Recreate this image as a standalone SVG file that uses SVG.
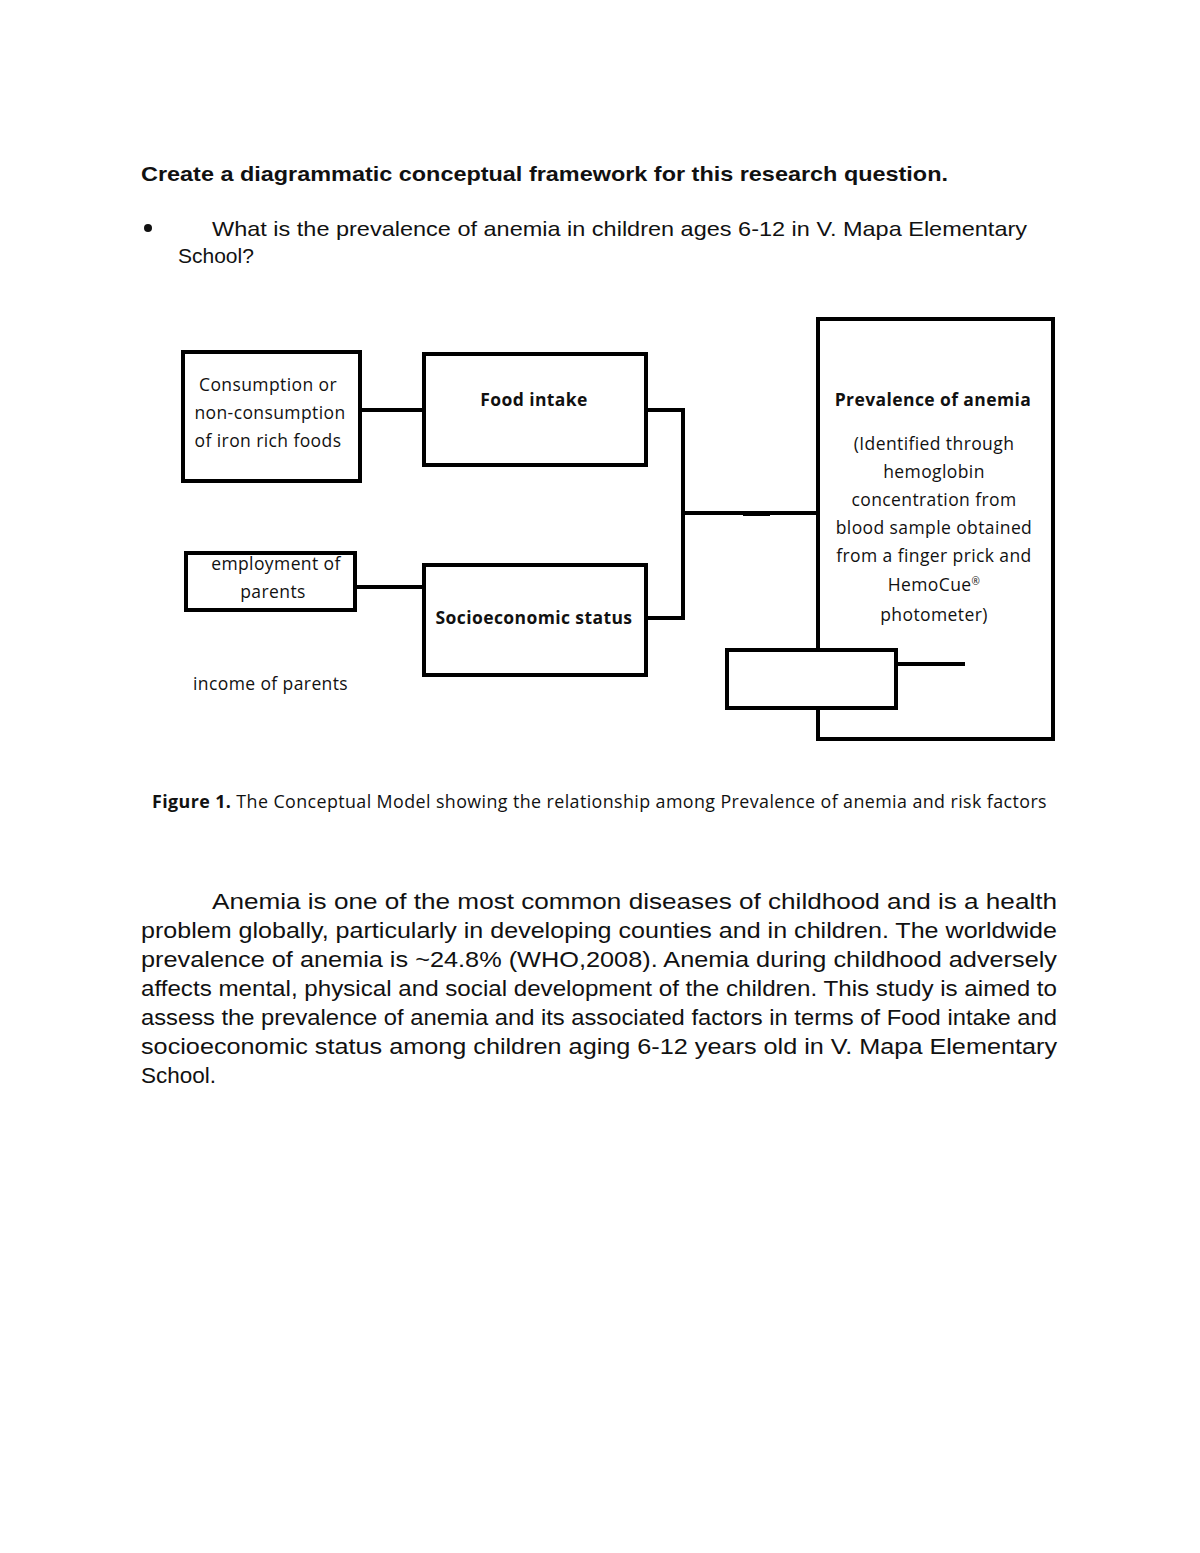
<svg xmlns="http://www.w3.org/2000/svg" width="1200" height="1553" viewBox="0 0 1200 1553">
<style>
.a{font-family:"Liberation Sans",Arial,sans-serif;font-size:21px;fill:#111}
.p{font-family:"Liberation Sans",Arial,sans-serif;font-size:22.5px;fill:#111}
.c{font-family:"Open Sans","Noto Sans","Liberation Sans",sans-serif;font-size:17.5px;letter-spacing:0.4px;fill:#111}
.b{font-weight:bold}
.box{fill:#fff;stroke:#000;stroke-width:4}
.ln{stroke:#000;stroke-width:4;fill:none}
</style>
<rect width="1200" height="1553" fill="#fff"/>
<text class="a b" x="141" y="181" textLength="807" lengthAdjust="spacingAndGlyphs">Create a diagrammatic conceptual framework for this research question.</text>
<circle cx="148" cy="228" r="4" fill="#111"/>
<text class="a" x="212" y="236" textLength="815" lengthAdjust="spacingAndGlyphs">What is the prevalence of anemia in children ages 6-12 in V. Mapa Elementary</text>
<text class="a" x="178" y="263">School?</text>

<g id="consumption">
<rect class="box" x="183" y="352" width="177" height="129"/>
<text class="c" text-anchor="middle" x="268" y="391">Consumption or</text>
<text class="c" text-anchor="middle" x="270" y="419">non-consumption</text>
<text class="c" text-anchor="middle" x="268" y="447">of iron rich foods</text>
</g>
<g id="food-intake">
<rect class="box" x="424" y="354" width="222" height="111"/>
<text class="c b" text-anchor="middle" x="534" y="406">Food intake</text>
</g>
<g id="employment">
<rect class="box" x="186" y="553" width="169" height="57" stroke-width="3.5"/>
<text class="c" text-anchor="middle" x="276" y="570">employment of</text>
<text class="c" text-anchor="middle" x="273" y="598">parents</text>
</g>
<g id="ses">
<rect class="box" x="424" y="565" width="222" height="110"/>
<text class="c b" text-anchor="middle" x="534" y="624">Socioeconomic status</text>
</g>
<g id="income">
<text class="c" x="193" y="690">income of parents</text>
</g>
<g id="prevalence">
<rect class="box" x="818" y="319" width="235" height="420"/>
<text class="c b" text-anchor="middle" x="933" y="406">Prevalence of anemia</text>
<text class="c" text-anchor="middle" x="934" y="450">(Identified through</text>
<text class="c" text-anchor="middle" x="934" y="478">hemoglobin</text>
<text class="c" text-anchor="middle" x="934" y="506">concentration from</text>
<text class="c" text-anchor="middle" x="934" y="534">blood sample obtained</text>
<text class="c" text-anchor="middle" x="934" y="562">from a finger prick and</text>
<text class="c" text-anchor="middle" x="934" y="591">HemoCue<tspan font-size="10" dy="-6">®</tspan></text>
<text class="c" text-anchor="middle" x="934" y="621">photometer)</text>
</g>
<g id="empty-box">
<rect class="box" x="727" y="650" width="169" height="58"/>
</g>

<g id="connectors">
<path class="ln" d="M360 410H424"/>
<path class="ln" d="M355 587H424"/>
<path class="ln" d="M646 410H683V618H646"/>
<path class="ln" d="M683 513H818"/>
<path class="ln" d="M743 514H770" stroke-width="5"/>
<path class="ln" d="M896 664H965"/>
</g>

<text class="c" x="152" y="808" textLength="895" lengthAdjust="spacingAndGlyphs" letter-spacing="0"><tspan class="b">Figure 1.</tspan> The Conceptual Model showing the relationship among Prevalence of anemia and risk factors</text>

<text class="p" x="212" y="909" textLength="845" lengthAdjust="spacingAndGlyphs">Anemia is one of the most common diseases of childhood and is a health</text>
<text class="p" x="141" y="938" textLength="916" lengthAdjust="spacingAndGlyphs">problem globally, particularly in developing counties and in children. The worldwide</text>
<text class="p" x="141" y="967" textLength="916" lengthAdjust="spacingAndGlyphs">prevalence of anemia is ~24.8% (WHO,2008). Anemia during childhood adversely</text>
<text class="p" x="141" y="996" textLength="916" lengthAdjust="spacingAndGlyphs">affects mental, physical and social development of the children. This study is aimed to</text>
<text class="p" x="141" y="1025" textLength="916" lengthAdjust="spacingAndGlyphs">assess the prevalence of anemia and its associated factors in terms of Food intake and</text>
<text class="p" x="141" y="1054" textLength="916" lengthAdjust="spacingAndGlyphs">socioeconomic status among children aging 6-12 years old in V. Mapa Elementary</text>
<text class="p" x="141" y="1083">School.</text>
</svg>
